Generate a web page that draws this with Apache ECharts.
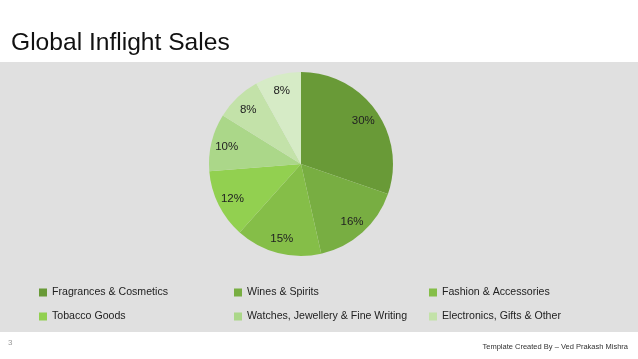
<!DOCTYPE html>
<html><head><meta charset="utf-8">
<script src="https://cdn.jsdelivr.net/npm/echarts@6/dist/echarts.min.js"></script>
<style>html,body{margin:0;padding:0;background:#fff}#c{width:638px;height:359px}</style>
</head><body><div id="c"></div>
<script>
const legendNames = ["Fragrances & Cosmetics","Wines & Spirits","Fashion & Accessories","Tobacco Goods","Watches, Jewellery & Fine Writing","Electronics, Gifts & Other"];
const sliceNames = ["Fragrances & Cosmetics","Wines & Spirits","Fashion & Accessories","Tobacco Goods","Watches, Jewellery & Fine Writing","Electronics, Gifts & Other","(unlabelled)"];
const sliceValues = [30,16,15,12,10,8,8];
const sliceColors = ["#699a37","#78ae42","#85be48","#92d050","#abd789","#c3e2a9","#d6ebc6"];

const FONT = '"Liberation Sans", Arial, sans-serif';
const chart = echarts.init(document.getElementById('c'), null, {renderer:'canvas'});
const data = sliceNames.map((n,i)=>({name:n, value:sliceValues[i], itemStyle:{color:sliceColors[i]}}));

const colX = [39, 234, 429];
const rowY = [287, 311];
const legends = legendNames.map((n,i)=>({
  data:[{name:n, itemStyle:{color:sliceColors[i]}}],
  left: colX[i%3], top: rowY[Math.floor(i/3)],
  itemWidth:8, itemHeight:8, icon:'rect', padding:0, selectedMode:false,
  textStyle:{fontFamily:FONT, fontSize:10.6, color:'#222'},
  itemGap:0
}));

chart.setOption({
  animation:false,
  backgroundColor:'#fff',
  graphic:[
    {type:'rect', shape:{x:0,y:62,width:638,height:270}, style:{fill:'#e0e0e0'}, z:-10, silent:true},
    {type:'text', left:11, top:31, style:{text:'Global Inflight Sales', font:'24.6px "Liberation Sans", Arial, sans-serif', fill:'#111'}},
    {type:'text', left:8, top:339, style:{text:'3', font:'8px "Liberation Sans", Arial, sans-serif', fill:'#999'}},
    {type:'text', right:10, top:343, style:{text:'Template Created By \u2013 Ved Prakash Mishra', font:'7.5px "Liberation Sans", Arial, sans-serif', fill:'#333'}}
  ],
  legend: legends,
  series:[
    {type:'pie', center:[301,164], radius:[0,92], startAngle:90, clockwise:true,
     label:{show:false}, labelLine:{show:false}, data:data, silent:true,
     itemStyle:{borderWidth:0}},
    {type:'pie', center:[301,165], radius:[55,92], startAngle:90, clockwise:true,
     data:sliceNames.map((n,i)=>({name:n, value:sliceValues[i], itemStyle:{color:'rgba(0,0,0,0)'}})),
     silent:true, legendHoverLink:false,
     label:{show:true, position:'inside', formatter:'{c}%', fontFamily:FONT, fontSize:11.5, color:'#222'},
     labelLine:{show:false}}
  ]
});
</script>
</body></html>
